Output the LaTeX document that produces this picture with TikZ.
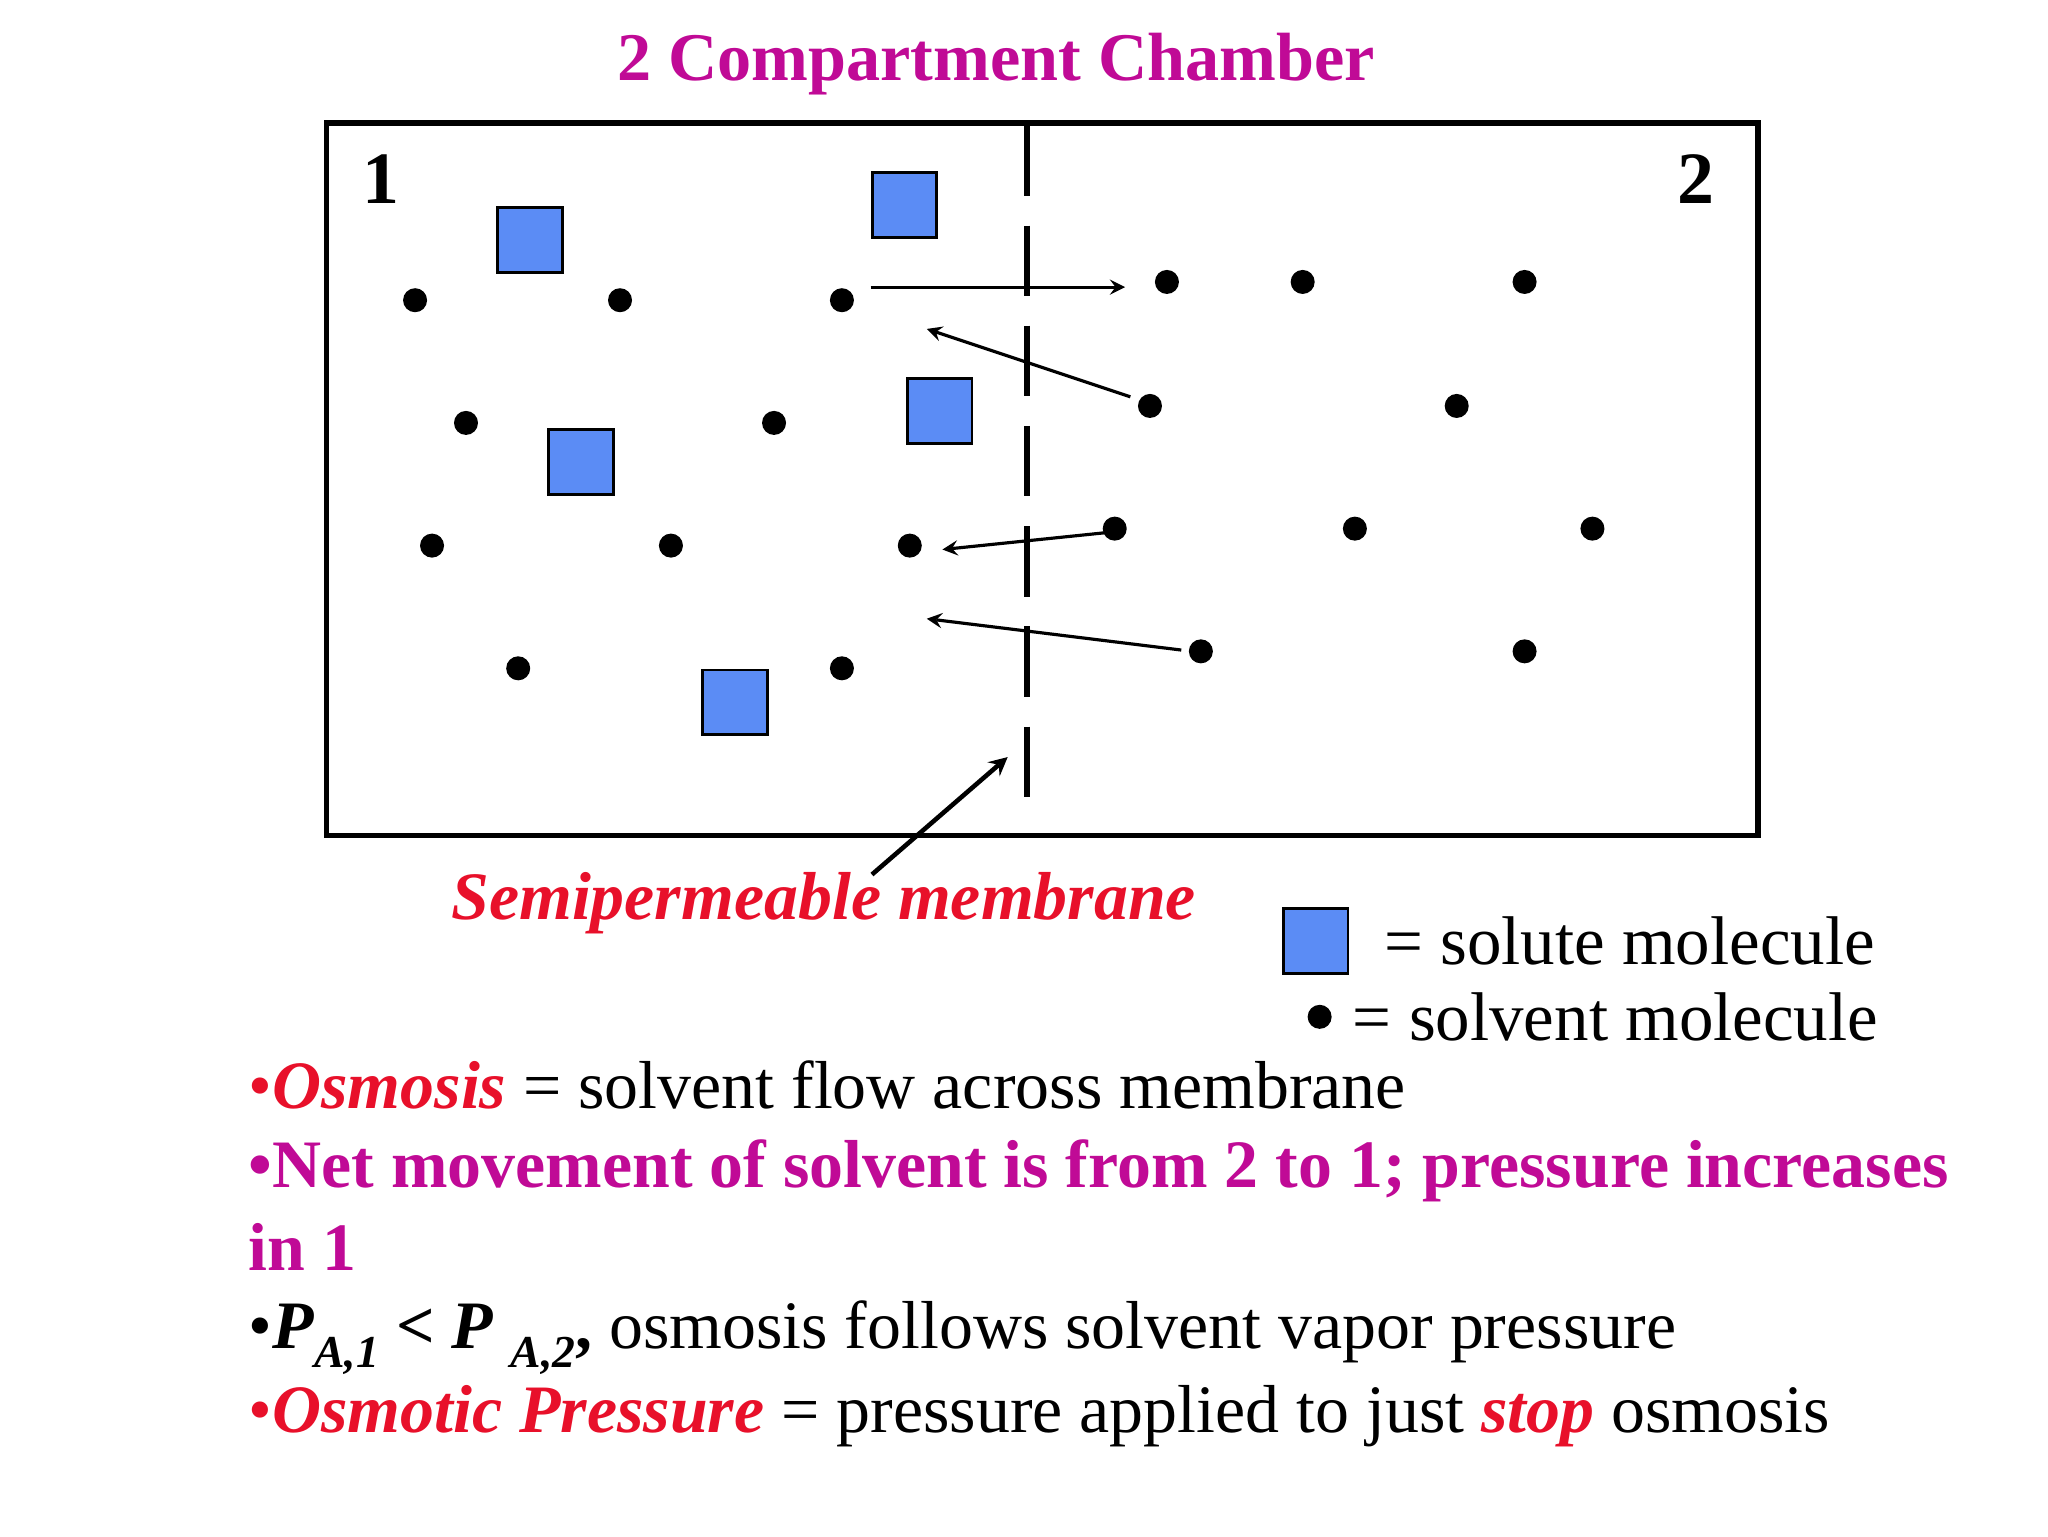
\documentclass[tikz,border=0pt]{standalone}
\usepackage{fontspec}
\setmainfont{Liberation Serif}
\definecolor{mag}{RGB}{192,10,150}
\definecolor{red1}{RGB}{232,16,42}
\definecolor{sq}{RGB}{91,140,245}
\begin{document}
\begin{tikzpicture}[x=0.01305cm,y=-0.01305cm,
 solute/.style={draw=black,fill=sq,minimum size=0.645cm,inner sep=0pt,line width=0.8pt},
 solv/.style={circle,fill=black,minimum size=0.24cm,inner sep=0pt},
 arr/.style={-stealth,line width=0.9pt},
 txt/.style={font=\fontsize{19.3}{23}\selectfont,inner sep=0pt,anchor=west}]
\useasboundingbox (0,0) rectangle (1569,1177);
\node[font=\fontsize{19.4}{23}\selectfont\bfseries,text=mag] (title) at (763,49) {2 Compartment Chamber};
\draw[line width=1.6pt] (250,94) rectangle (1347,640);
\coordinate (mt) at (787,96); \coordinate (mb) at (787,627);
\draw[line width=1.6pt,dash pattern=on 20pt off 8.5pt] (mt) -- (mb);
\node[font=\fontsize{21}{25}\selectfont\bfseries] (n1) at (292,137) {1};
\node[font=\fontsize{21}{25}\selectfont\bfseries] (n2) at (1299,137) {2};
\foreach \i/\x/\y in {1/406/184,2/693/157,3/720/315,4/445/354,5/563/538}
 \node[solute] (s\i) at (\x,\y) {};
\foreach \i/\x/\y in {1/318/230,2/475/230,3/645/230,4/357/324,5/593/324,6/331/418,7/514/418,8/697/418,9/397/512,10/645/512,11/894/216,12/998/216,13/1168/216,14/881/311,15/1116/311,16/854/405,17/1038/405,18/1220/405,19/920/499,20/1168/499}
 \node[solv] (d\i) at (\x,\y) {};
\coordinate (a1s) at (667,220); \coordinate (a1e) at (862,220);
\coordinate (a2s) at (866,304); \coordinate (a2e) at (710,252);
\coordinate (a3s) at (848,408); \coordinate (a3e) at (722,421);
\coordinate (a4s) at (905,498); \coordinate (a4e) at (710,474);
\draw[arr] (a1s) -- (a1e);
\draw[arr] (a2s) -- (a2e);
\draw[arr] (a3s) -- (a3e);
\draw[arr] (a4s) -- (a4e);
\coordinate (ms) at (668,670); \coordinate (me) at (772,580);
\draw[-stealth,line width=1.3pt] (ms) -- (me);
\node[font=\fontsize{19.3}{23}\selectfont\bfseries\itshape,text=red1] (semi) at (631,692) {Semipermeable membrane};
\node[solute] (ls) at (1008,721) {};
\node[txt,font=\fontsize{19.6}{23}\selectfont] (lt1) at (1060,721) {= solute molecule};
\node[solv] (ld) at (1011,779) {};
\node[txt,font=\fontsize{19.6}{23}\selectfont] (lt2) at (1036,779) {= solvent molecule};
\node[txt] (b1) at (190,831) {\textcolor{red1}{•\textbf{\textit{Osmosis}}} = solvent flow across membrane};
\node[txt,text=mag,font=\fontsize{19.3}{23}\selectfont\bfseries] (b2) at (190,897) {•Net movement of solvent is from 2 to 1; pressure increases};
\node[txt,text=mag,font=\fontsize{19.3}{23}\selectfont\bfseries] (b2b) at (190,955) {in 1};
\node[txt] (b3) at (190,1025) {•\textbf{\textit{P}}\raisebox{-0.6ex}{\fontsize{13}{15}\selectfont\bfseries\itshape A,1} \textbf{\textit{< P}} \raisebox{-0.6ex}{\fontsize{13}{15}\selectfont\bfseries\itshape A,2}\textbf{,} osmosis follows solvent vapor pressure};
\node[txt] (b4) at (190,1085) {\textcolor{red1}{•\textbf{\textit{Osmotic Pressure}}} = pressure applied to just \textcolor{red1}{\textbf{\textit{stop}}} osmosis};
\end{tikzpicture}
\end{document}
